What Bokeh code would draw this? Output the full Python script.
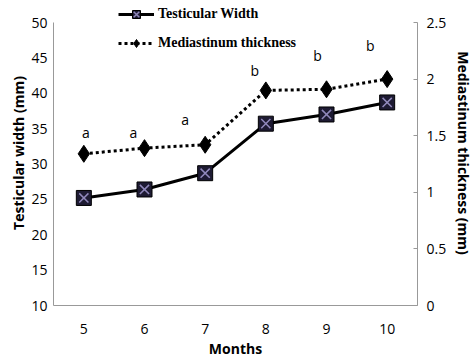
from bokeh.plotting import figure
from bokeh.models import (Range1d, LinearAxis, FixedTicker, NumeralTickFormatter,
                          Legend, LegendItem, ColumnDataSource)
from bokeh.core.properties import value
from bokeh.embed import file_html
from bokeh.resources import INLINE

# ---- data ----
months = [5, 6, 7, 8, 9, 10]
testicular_width = [25.2, 26.4, 28.7, 35.7, 37.0, 38.7]      # mm, left axis
mediastinum_thickness = [1.34, 1.39, 1.42, 1.90, 1.91, 2.00]  # mm, right axis
letters = ["a", "a", "a", "b", "b", "b"]
letter_level = [1.53, 1.53, 1.64, 2.08, 2.21, 2.30]           # right-axis level of letters
letter_shift = [2, -11, -20, -11, -9, -17]                     # px horizontal shift
left_ticks = [10, 15, 20, 25, 30, 35, 40, 45, 50]
right_ticks = [0, 0.5, 1, 1.5, 2, 2.5]
left_lim = (10, 50)
right_lim = (0, 2.5)

TICK_FONT = "Open Sans"
AXIS_COLOR = "#999999"

# frame geometry: plotting band 283 px tall with 22 px free space above for the legend
BAND_H = 283
TOP_PAD = 22
FRAME_H = BAND_H + TOP_PAD
ext = TOP_PAD / BAND_H
left_end = left_lim[1] + (left_lim[1] - left_lim[0]) * ext
right_end = right_lim[1] + (right_lim[1] - right_lim[0]) * ext

p = figure(frame_width=364, frame_height=FRAME_H, output_backend="svg", toolbar_location=None,
           x_range=Range1d(4.5, 10.5), y_range=Range1d(left_lim[0], left_end),
           min_border_left=53, min_border_right=57, min_border_top=0,
           min_border_bottom=51, outline_line_color=None)
p.grid.visible = False
p.background_fill_color = "white"
p.border_fill_color = "white"

p.extra_y_ranges = {"right": Range1d(right_lim[0], right_end)}

# x axis
xa = p.xaxis[0]
xa.ticker = FixedTicker(ticks=months)
xa.axis_label = "Months"
xa.major_tick_in = 0
xa.major_tick_out = 0
xa.minor_tick_in = 0
xa.minor_tick_out = 0
xa.major_tick_line_color = None
xa.minor_tick_line_color = None
xa.axis_line_color = AXIS_COLOR
xa.major_label_standoff = 18
xa.axis_label_standoff = 2

# left axis
ya = p.yaxis[0]
ya.ticker = FixedTicker(ticks=left_ticks)
ya.bounds = left_lim
ya.axis_label = "Testicular width (mm)"
ya.major_tick_in = 0
ya.major_tick_out = 0
ya.minor_tick_in = 0
ya.minor_tick_out = 0
ya.major_tick_line_color = None
ya.minor_tick_line_color = None
ya.axis_line_color = AXIS_COLOR
ya.major_label_standoff = 6
ya.axis_label_standoff = 0

# right axis
ra = LinearAxis(y_range_name="right", ticker=FixedTicker(ticks=right_ticks),
                formatter=NumeralTickFormatter(format="0.[0]"),
                axis_label="Mediastinum thickness (mm)", bounds=right_lim)
ra.major_tick_in = 4
ra.major_tick_out = 0
ra.minor_tick_in = 0
ra.minor_tick_out = 0
ra.major_tick_line_color = AXIS_COLOR
ra.minor_tick_line_color = None
ra.axis_line_color = AXIS_COLOR
ra.major_label_standoff = 9
ra.axis_label_standoff = 5
p.add_layout(ra, "right")

for ax in [xa, ya, ra]:
    ax.major_label_text_font = TICK_FONT
    ax.major_label_text_font_size = "14px"
    ax.major_label_text_color = "black"
    ax.axis_label_text_font = TICK_FONT
    ax.axis_label_text_font_size = "14px"
    ax.axis_label_text_font_style = "bold"
    ax.axis_label_text_color = "black"

src_w = ColumnDataSource(dict(x=months, y=testicular_width))
src_m = ColumnDataSource(dict(x=months, y=mediastinum_thickness))

# testicular width
lw = p.line("x", "y", source=src_w, line_color="black", line_width=3)
sq = p.scatter("x", "y", source=src_w, marker="square", size=15,
               fill_color="#1e1b33", line_color="black", line_width=1)
sx = p.scatter("x", "y", source=src_w, marker="x", size=13,
               line_color="#9088bb", line_width=1.5)

# mediastinum thickness
lm = p.line("x", "y", source=src_m, y_range_name="right", line_color="black",
            line_width=3, line_dash="3 3")
dm = p.scatter("x", "y", source=src_m, y_range_name="right", marker="diamond",
               size=17, fill_color="black", line_color="black")

# significance letters
src_l = ColumnDataSource(dict(x=months, y=letter_level, t=letters, dx=letter_shift))
p.text("x", "y", text="t", source=src_l, y_range_name="right", x_offset="dx",
       text_font=value(TICK_FONT), text_font_size="14px", text_color="black",
       text_align="center", text_baseline="middle")

legend = Legend(items=[
    LegendItem(label="Testicular Width", renderers=[lw, sq, sx]),
    LegendItem(label="Mediastinum thickness", renderers=[lm, dm]),
], location=(65, 252))
legend.label_text_font = "Liberation Serif"
legend.label_text_font_style = "bold"
legend.label_text_font_size = "14px"
legend.label_text_color = "black"
legend.glyph_width = 36
legend.glyph_height = 20
legend.label_height = 20
legend.label_standoff = 4
legend.spacing = 9
legend.padding = 0
legend.margin = 0
legend.border_line_color = None
legend.background_fill_alpha = 0
p.add_layout(legend, "center")

open("out.html", "w").write(file_html(p, INLINE))
